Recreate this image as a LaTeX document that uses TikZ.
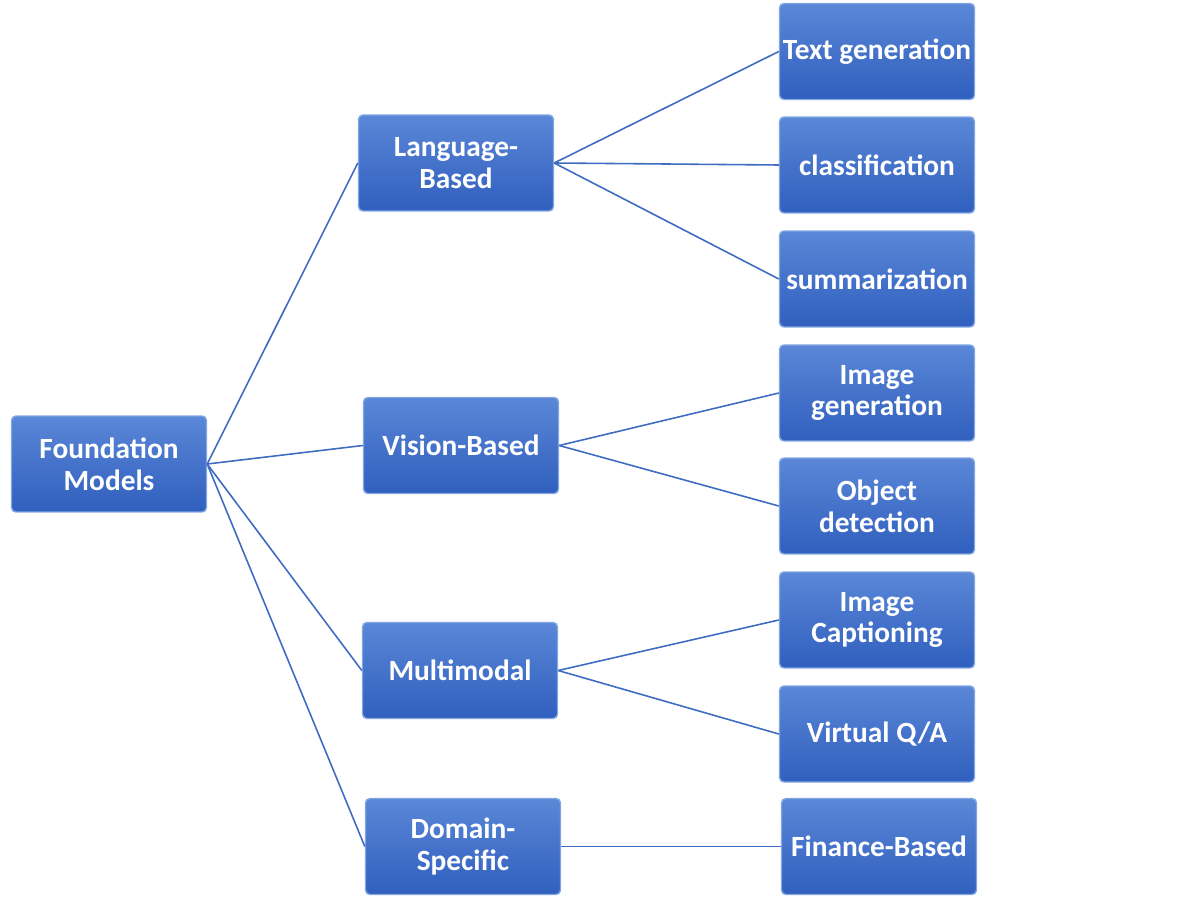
\documentclass[tikz,border=0pt]{standalone}
\usepackage{fontspec}
\setmainfont{Carlito}
\usetikzlibrary{positioning}
\definecolor{boxtop}{RGB}{90,135,215}
\definecolor{boxbottom}{RGB}{48,95,190}
\definecolor{boxedge}{RGB}{130,166,226}
\definecolor{linkblue}{RGB}{62,108,192}

\begin{document}
\begin{tikzpicture}[
    x=0.02cm, y=-0.02cm,
    box/.style={rectangle, draw=boxedge, line width=0.8pt, top color=boxtop, bottom color=boxbottom,
        text=white, font=\bfseries\fontsize{16.7}{18}\selectfont, align=center,
        minimum width=3.9cm, minimum height=1.92cm, rounded corners=2.5pt, inner sep=1pt},
    link/.style={draw=linkblue, line width=0.9pt}
]
\useasboundingbox (0,0) rectangle (1200,899);

% root
\node[box] (fm) at (109,464) {Foundation\\Models};

% model families
\node[box] (lang) at (456,163) {Language-\\Based};
\node[box] (vis) at (461,445.5) {Vision-Based};
\node[box] (multi) at (460,670.5) {Multimodal};
\node[box] (dom) at (463,846.5) {Domain-\\Specific};

% tasks
\node[box] (textgen) at (877,51.5) {Text generation};
\node[box] (classif) at (877,165) {classification};
\node[box] (summ) at (877,279) {summarization};
\node[box] (imggen) at (877,393) {Image\\generation};
\node[box] (objdet) at (877,506) {Object\\detection};
\node[box] (imgcap) at (877,620) {Image\\Captioning};
\node[box] (vqa) at (877,734) {Virtual Q/A};
\node[box] (fin) at (879,846.5) {Finance-Based};

\draw[link] (fm.east) -- (lang.west);
\draw[link] (fm.east) -- (vis.west);
\draw[link] (fm.east) -- (multi.west);
\draw[link] (fm.east) -- (dom.west);

\draw[link] (lang.east) -- (textgen.west);
\draw[link] (lang.east) -- (classif.west);
\draw[link] (lang.east) -- (summ.west);
\draw[link] (vis.east) -- (imggen.west);
\draw[link] (vis.east) -- (objdet.west);
\draw[link] (multi.east) -- (imgcap.west);
\draw[link] (multi.east) -- (vqa.west);
\draw[link] (dom.east) -- (fin.west);

\end{tikzpicture}
\end{document}
